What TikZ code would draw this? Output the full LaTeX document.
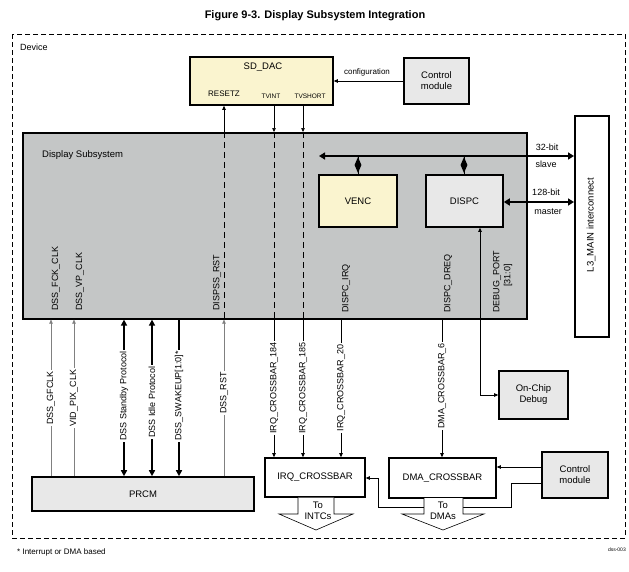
\documentclass[tikz,border=0pt]{standalone}
\usepackage{fontspec}
\setmainfont{Liberation Sans}
\usetikzlibrary{shapes.geometric,arrows.meta,calc}
\definecolor{cream}{HTML}{FAF4CF}
\definecolor{lgray}{HTML}{E8E8E8}
\definecolor{dgray}{HTML}{C4C6C6}
\begin{document}
\begin{tikzpicture}[x=1pt,y=-1pt,
  box/.style={draw,line width=1.6pt,inner sep=0pt,align=center,font=\fontsize{9.5}{11}\selectfont},
  lbl/.style={font=\fontsize{9}{10}\selectfont,inner sep=1pt},
  vl/.style={lbl,rotate=90,fill=white,inner sep=1.5pt},
  vin/.style={lbl,rotate=90,anchor=west},
  sig/.style={line width=0.6pt,-{Triangle[length=4pt,width=3.5pt]}},
  gsig/.style={sig,draw=gray},
  proto/.style={line width=1.5pt,{Triangle[length=6pt,width=6pt]}-{Triangle[length=6pt,width=6pt]}},
  bus/.style={line width=1.8pt,{Triangle[length=6pt,width=7pt]}-{Triangle[length=6pt,width=7pt]}},
  dsh/.style={line width=0.6pt,dash pattern=on 6pt off 4pt},
  bigarrow/.style={draw,fill=white,line width=0.6pt}]
\useasboundingbox (0,0) rectangle (629,571);
\node[font=\bfseries\fontsize{11}{12}\selectfont] (title) at (315,16) {Figure 9-3. Display Subsystem Integration};
\draw[line width=0.6pt,dash pattern=on 5pt off 3pt] (12,34) rectangle (625,538);
\node[lbl,anchor=west] (dev) at (19,47) {Device};
% boxes
\node[box,fill=cream,minimum width=143,minimum height=48] (sddac) at (261.5,81) {};
\node[lbl,font=\fontsize{9.5}{10}\selectfont] (sdt) at (263,67) {SD\_DAC};
\node[lbl,font=\fontsize{8}{8}\selectfont] (rz) at (224,94) {RESETZ};
\node[lbl,font=\fontsize{6.5}{7}\selectfont] (tvi) at (271,96) {TVINT};
\node[lbl,font=\fontsize{6.5}{7}\selectfont] (tvs) at (310,96) {TVSHORT};
\node[box,fill=lgray,minimum width=65,minimum height=46] (ctl1) at (436.5,81) {Control\\module};
\node[box,fill=dgray,minimum width=504,minimum height=186,anchor=north west] (dss) at (22,132) {};
\node[lbl,anchor=west,font=\fontsize{9.5}{10}\selectfont] (dsst) at (41,155) {Display Subsystem};
\node[box,fill=white,minimum width=34,minimum height=221,anchor=north west] (l3) at (574,115) {};
\node[lbl,rotate=90,font=\fontsize{9.5}{10}\selectfont] (l3t) at (591,225) {L3\_MAIN interconnect};
\node[box,fill=cream,minimum width=78,minimum height=52] (venc) at (358,201) {VENC};
\node[box,fill=lgray,minimum width=77,minimum height=52] (dispc) at (464.5,201) {DISPC};
\node[box,fill=lgray,minimum width=69,minimum height=48] (ocd) at (533.5,395) {On-Chip\\Debug};
\node[box,fill=lgray,minimum width=222,minimum height=34] (prcm) at (143,494) {PRCM};
\node[box,fill=white,minimum width=100,minimum height=39] (irq) at (315,477.5) {IRQ\_CROSSBAR};
\node[box,fill=white,minimum width=107,minimum height=40] (dma) at (442.5,478) {DMA\_CROSSBAR};
\node[box,fill=lgray,minimum width=66,minimum height=46] (ctl2) at (575,475) {Control\\module};
% config
\draw[sig] (ctl1.west|-0,81) -- (sddac.east|-0,81);
\node[lbl,font=\fontsize{8}{8}\selectfont] (cfg) at (367,72) {configuration};
% bus
\coordinate (bl) at (319,156);
\draw[bus] (bl) -- (l3.west|-bl);
\draw[line width=1pt] (venc.north) -- (venc.north|-bl);
\draw[line width=1pt] (dispc.north) -- (dispc.north|-bl);
\node[diamond,fill=black,minimum width=7,minimum height=16,inner sep=0pt] (d1) at (358,165) {};
\node[diamond,fill=black,minimum width=7,minimum height=16,inner sep=0pt] (d2) at (464,165) {};
\draw[bus] (dispc.east|-0,202) -- (l3.west|-0,202);
\node[lbl] (b32) at (547,147) {32-bit};
\node[lbl] (bsl) at (546,164) {slave};
\node[lbl] (b128) at (546,192) {128-bit};
\node[lbl] (bms) at (548,212) {master};
% vertical coordinates
\coordinate (x1) at (51,0); \coordinate (x2) at (74,0); \coordinate (x3) at (124,0);
\coordinate (x4) at (152,0); \coordinate (x5) at (179,0); \coordinate (x6) at (224,0);
\coordinate (x7) at (274,0); \coordinate (x8) at (303,0); \coordinate (x9) at (341,0);
\coordinate (x10) at (442,0); \coordinate (x11) at (480,0);
% SD_DAC links
\draw[sig] (dss.north-|x6) -- (sddac.south-|x6);
\draw[sig] (sddac.south-|x7) -- (dss.north-|x7);
\draw[sig] (sddac.south-|x8) -- (dss.north-|x8);
\draw[dsh] (dss.north-|x6) -- (dss.south-|x6);
\draw[dsh] (dss.north-|x7) -- (dss.south-|x7);
\draw[dsh] (dss.north-|x8) -- (dss.south-|x8);
% inside labels
\node[vin] (i1) at (56,312) {DSS\_FCK\_CLK};
\node[vin] (i2) at (80,312) {DSS\_VP\_CLK};
\node[vin] (i3) at (217,312) {DISPSS\_RST};
\node[vin] (i4) at (346,314) {DISPC\_IRQ};
\node[vin] (i5) at (448,314) {DISPC\_DREQ};
\node[vin] (i6) at (497,314) {DEBUG\_PORT};
\node[vin] (i7) at (508,288) {[31:0]};
% PRCM links
\draw[gsig] (prcm.north-|x1) -- (dss.south-|x1);
\draw[gsig] (prcm.north-|x2) -- (dss.south-|x2);
\draw[proto] (prcm.north-|x3) -- (dss.south-|x3);
\draw[proto] (prcm.north-|x4) -- (dss.south-|x4);
\draw[line width=1.5pt,-{Triangle[length=6pt,width=6pt]}] (dss.south-|x5) -- (prcm.north-|x5);
\draw[gsig] (prcm.north-|x6) -- (dss.south-|x6);
\node[vl] (o1) at (51,398) {DSS\_GFCLK};
\node[vl] (o2) at (74,398) {VID\_PIX\_CLK};
\node[vl] (o3) at (124,396) {DSS Standby Protocol};
\node[vl] (o4) at (152,402) {DSS Idle Protocol};
\node[vl] (o5) at (179,396) {DSS\_SWAKEUP[1:0]*};
\node[vl] (o6) at (224,393) {DSS\_RST};
% crossbar links
\draw[sig] (dss.south-|x7) -- (irq.north-|x7);
\draw[sig] (dss.south-|x8) -- (irq.north-|x8);
\draw[sig] (dss.south-|x9) -- (irq.north-|x9);
\draw[sig] (dss.south-|x10) -- (dma.north-|x10);
\node[vl] (c1) at (274,388) {IRQ\_CROSSBAR\_184};
\node[vl] (c2) at (303,388) {IRQ\_CROSSBAR\_185};
\node[vl] (c3) at (341,388) {IRQ\_CROSSBAR\_20};
\node[vl] (c4) at (442,386) {DMA\_CROSSBAR\_6};
% debug
\draw[line width=0.6pt,{Triangle[length=4pt,width=3.5pt]}-{Triangle[length=4pt,width=3.5pt]}] (dispc.south-|x11) |- (ocd.west);
% control 2
\draw[sig] (ctl2.west|-0,467) -- (dma.east|-0,467);
\coordinate (k1) at (511,483); \coordinate (k2) at (378,507);
\draw[sig] (ctl2.west|-k1) -- (k1) |- (k2) |- (irq.east|-0,478);
% big arrows
\draw[bigarrow] (298,497.5) -- (298,514) -- (279,514) -- (316,530) -- (353,514) -- (334,514) -- (334,497.5);
\node[lbl,align=center,font=\fontsize{9.5}{11}\selectfont] (tintt) at (318,511) {To\\INTCs};
\draw[bigarrow] (424,498) -- (424,514) -- (402,514) -- (443,530) -- (484,514) -- (463,514) -- (463,498);
\node[lbl,align=center,font=\fontsize{9.5}{11}\selectfont] (tdmat) at (443,511) {To\\DMAs};
% footer
\node[lbl,anchor=west,font=\fontsize{8}{8}\selectfont] (fn) at (16,552) {* Interrupt or DMA based};
\node[lbl,anchor=east,font=\fontsize{5}{6}\selectfont] (id) at (627,550) {dss-003};
\end{tikzpicture}
\end{document}
